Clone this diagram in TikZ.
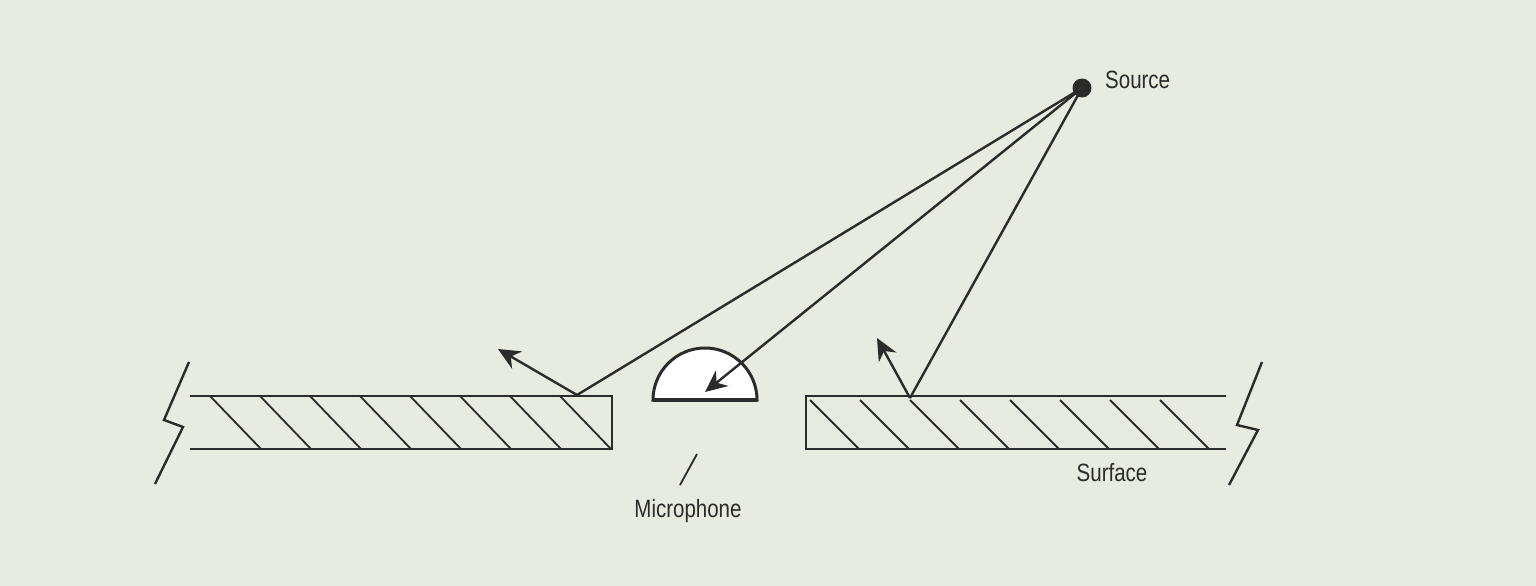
\documentclass[tikz,border=0pt]{standalone}
\usepackage{fontspec}
\setmainfont{Liberation Sans}
\usetikzlibrary{arrows.meta}
\definecolor{bg}{HTML}{E8EBDF}
\definecolor{ink}{HTML}{2B2B2B}
\begin{document}
\begin{tikzpicture}[x=1pt,y=-1pt,
  ln/.style={draw=ink,line width=2.4pt},
  arr/.style={ln,-{Stealth[length=22pt,width=20pt]}},
  lbl/.style={text=ink,font=\fontsize{25}{25}\selectfont,inner sep=0pt,xscale=0.82}]
\fill[bg] (0,0) rectangle (1536,586);
\useasboundingbox (0,0) rectangle (1536,586);
% left slab
\draw[ln] (190,396) -- (612,396) -- (612,449) -- (190,449);
\foreach \x in {210,260,310,360,410,460,510,560} \draw[line width=1.8pt,draw=ink] (\x,396) -- (\x+51,449);
\draw[ln] (155,484) -- (183,427) -- (164,420) -- (189,362);
% right slab
\draw[ln] (1226,396) -- (806,396) -- (806,449) -- (1226,449);
\foreach \x in {810,860,910,960,1010,1060,1110,1160} \draw[line width=1.8pt,draw=ink] (\x,400) -- (\x+49,449);
\draw[ln] (1262,362) -- (1237,425) -- (1258,430) -- (1229,485);
% microphone
\node[circle,fill=ink,minimum size=19pt,inner sep=0pt] (src) at (1082,88) {};
\node[lbl,anchor=west] at (1105,80) {Source};
\coordinate (mic) at (705,392);
\draw[ln,fill=white,line width=3pt] (653,400) arc (180:360:52) -- cycle;
\draw[ln,line width=4pt] (653,400) -- (757,400);
\draw[ln,line width=1.8pt] (697,454) -- (680,485);
\node[lbl] at (688,511) {Microphone};
\node[lbl] at (1112,473) {Surface};
% rays
\coordinate (p1) at (577,395);
\coordinate (p2) at (910,398);
\coordinate (r1) at (498,349);
\coordinate (r2) at (877,338);
\draw[ln] (src.center) -- (p1);
\draw[arr] (p1) -- (r1);
\draw[arr] (src.center) -- (mic);
\draw[ln] (src.center) -- (p2);
\draw[arr] (p2) -- (r2);
\end{tikzpicture}
\end{document}
